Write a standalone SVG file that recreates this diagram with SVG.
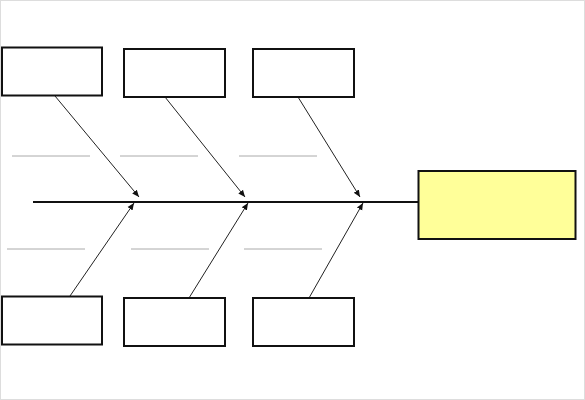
<svg xmlns="http://www.w3.org/2000/svg" width="585" height="400" viewBox="0 0 585 400">
<style>
.box{fill:#fff;stroke:#111;stroke-width:2}
.head{fill:#ffff99;stroke:#111;stroke-width:2}
.bone{stroke:#222;stroke-width:1;fill:none}
.guide{stroke:#aaa;stroke-width:1}
.spine{stroke:#111;stroke-width:2.2}
</style>
<defs>
<marker id="ah" markerWidth="8" markerHeight="8" refX="7" refY="4" orient="auto" markerUnits="userSpaceOnUse">
<path d="M0,1 L7,4 L0,7 Z" fill="#111"/>
</marker>
</defs>
<rect x="0.5" y="0.5" width="584" height="399" fill="#fff" stroke="#ddd"/>
<g id="guides">
<line class="guide" x1="12" y1="156" x2="90" y2="156"/>
<line class="guide" x1="120" y1="156" x2="198" y2="156"/>
<line class="guide" x1="239" y1="156" x2="317" y2="156"/>
<line class="guide" x1="7" y1="249" x2="85" y2="249"/>
<line class="guide" x1="131" y1="249" x2="209" y2="249"/>
<line class="guide" x1="244" y1="249" x2="322" y2="249"/>
</g>
<g id="connectors">
<line class="spine" x1="33" y1="202" x2="419" y2="202"/>
<line class="bone" x1="55" y1="96" x2="139" y2="197" marker-end="url(#ah)"/>
<line class="bone" x1="165" y1="97" x2="245" y2="197" marker-end="url(#ah)"/>
<line class="bone" x1="298" y1="97" x2="360" y2="197" marker-end="url(#ah)"/>
<line class="bone" x1="70" y1="296" x2="134" y2="203" marker-end="url(#ah)"/>
<line class="bone" x1="189" y1="298" x2="248" y2="203" marker-end="url(#ah)"/>
<line class="bone" x1="309" y1="298" x2="363" y2="203" marker-end="url(#ah)"/>
</g>
<g id="cause-top-1"><rect class="box" x="2" y="47.5" width="100" height="48"/></g>
<g id="cause-top-2"><rect class="box" x="124" y="49" width="101" height="48"/></g>
<g id="cause-top-3"><rect class="box" x="253" y="49" width="101" height="48"/></g>
<g id="cause-bottom-1"><rect class="box" x="2" y="296.5" width="100" height="48"/></g>
<g id="cause-bottom-2"><rect class="box" x="124" y="298" width="101" height="48"/></g>
<g id="cause-bottom-3"><rect class="box" x="253" y="298" width="101" height="48"/></g>
<g id="effect"><rect class="head" x="418.5" y="171" width="157" height="68"/></g>
</svg>
